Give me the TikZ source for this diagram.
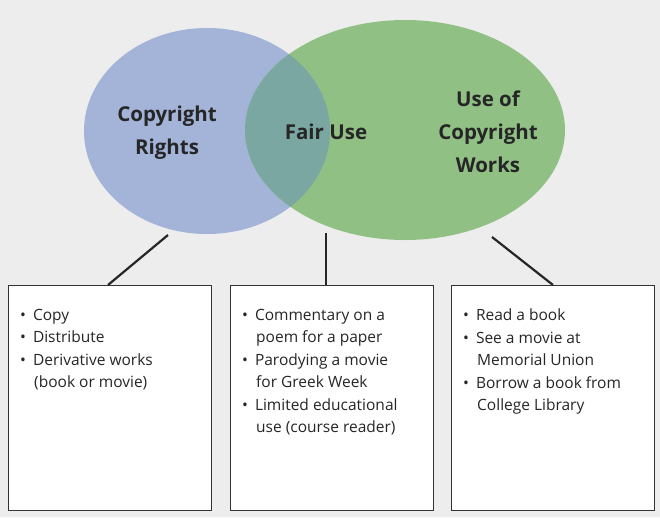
\documentclass[tikz,border=0pt]{standalone}
\usepackage{fontspec}
\setmainfont{Open Sans}
\definecolor{bg}{HTML}{EDEDED}
\definecolor{lblue}{HTML}{A3B4D8}
\definecolor{lgreen}{HTML}{91C085}
\definecolor{lteal}{HTML}{7BA7A2}
\begin{document}
\begin{tikzpicture}[x=1pt,y=-1pt,
  big/.style={font=\fontsize{20.5}{33}\selectfont\bfseries,align=center,text=black!85},
  box/.style={draw=black!80,line width=0.8pt,fill=white,minimum width=203pt,minimum height=225pt,anchor=north west},
  items/.style={anchor=north west,align=left,font=\fontsize{15.5}{22.5}\selectfont,text=black!85,inner sep=0pt},
  conn/.style={line width=2.2pt,black!85}]
\fill[bg] (0,0) rectangle (660,517);
\useasboundingbox (0,0) rectangle (660,517);
\fill[lblue] (207,131) ellipse [x radius=123,y radius=103];
\fill[lgreen] (405,130) ellipse [x radius=160,y radius=110];
\begin{scope}
\clip (207,131) ellipse [x radius=123,y radius=103];
\fill[lteal] (405,130) ellipse [x radius=160,y radius=110];
\end{scope}
\node[big] (cr) at (167,133) {Copyright\\Rights};
\node[big] (fu) at (326,132) {Fair Use};
\node[big] (uw) at (488,132) {Use of\\Copyright\\Works};
\node[box] (b1) at (8,285) {};
\node[box] (b2) at (230,285) {};
\node[box] (b3) at (451,285) {};
\coordinate (e1) at (168,235);
\coordinate (e2) at (326,233);
\coordinate (e3) at (492,237);
\draw[conn] (e1) -- (b1.north -| 108,0);
\draw[conn] (e2) -- (b2.north -| 326,0);
\draw[conn] (e3) -- (b3.north -| 553,0);
\node[items] (t1) at (20,309) {\textbullet\hspace{7pt}Copy\\\textbullet\hspace{7pt}Distribute\\\textbullet\hspace{7pt}Derivative works\\\hspace{14pt}(book or movie)};
\node[items] (t2) at (242,309) {\textbullet\hspace{7pt}Commentary on a\\\hspace{14pt}poem for a paper\\\textbullet\hspace{7pt}Parodying a movie\\\hspace{14pt}for Greek Week\\\textbullet\hspace{7pt}Limited educational\\\hspace{14pt}use (course reader)};
\node[items] (t3) at (463,309) {\textbullet\hspace{7pt}Read a book\\\textbullet\hspace{7pt}See a movie at\\\hspace{14pt}Memorial Union\\\textbullet\hspace{7pt}Borrow a book from\\\hspace{14pt}College Library};
\end{tikzpicture}
\end{document}
